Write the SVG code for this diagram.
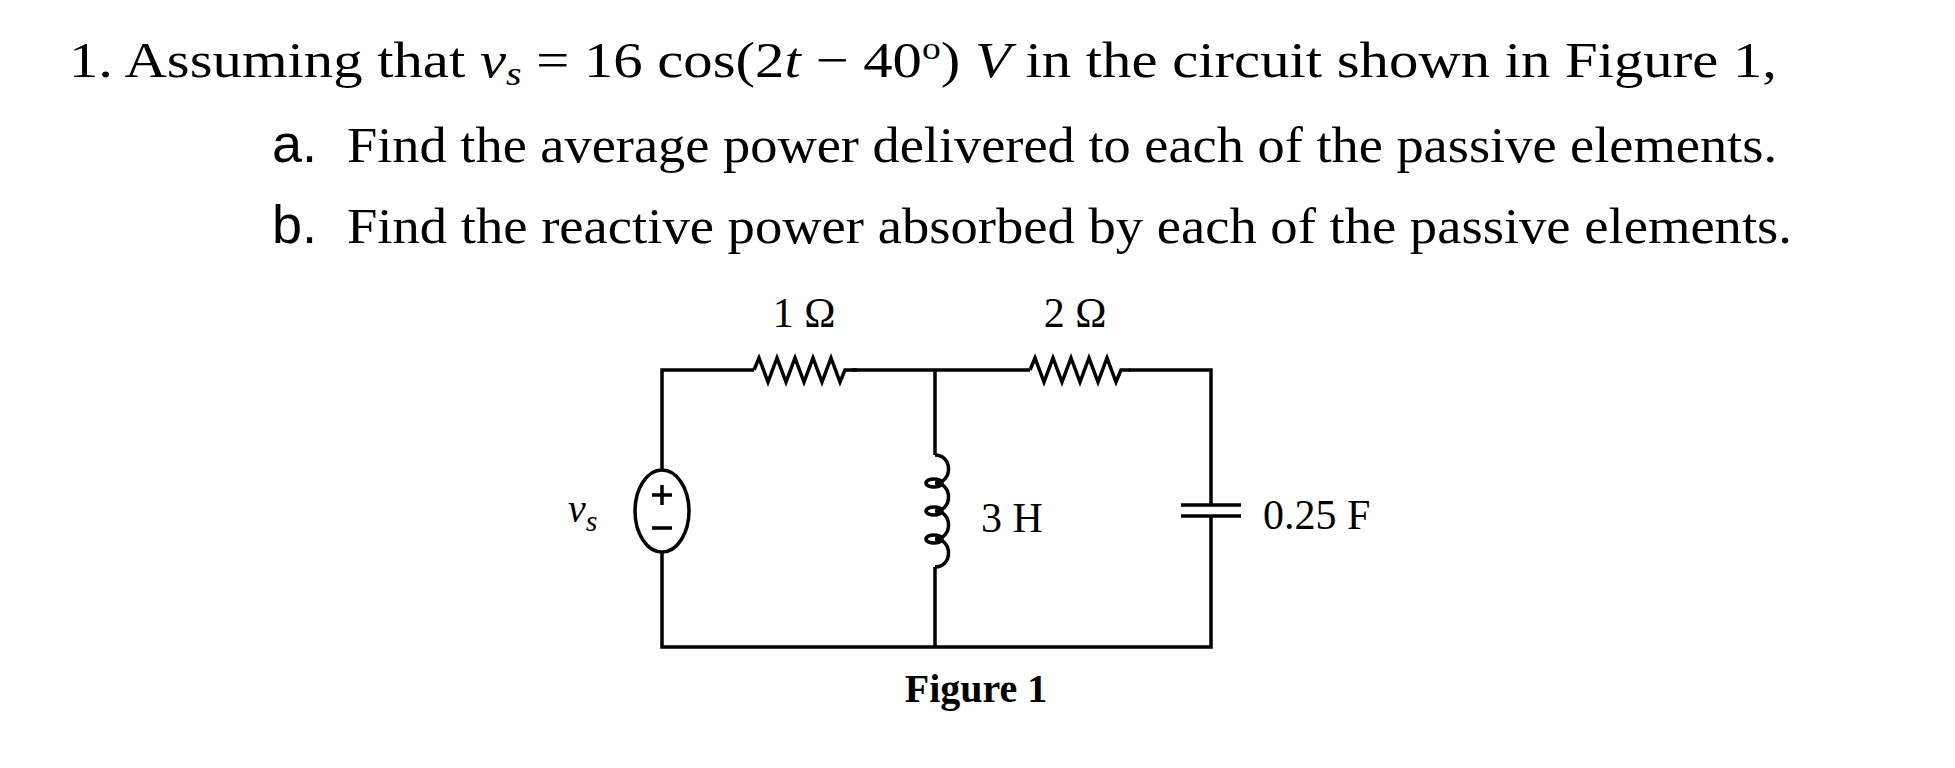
<svg xmlns="http://www.w3.org/2000/svg" width="1955" height="768" viewBox="0 0 1955 768">
<style>
.t{font-family:"Liberation Serif",serif;fill:#000}
.w{fill:none;stroke:#000;stroke-width:3.5;stroke-linejoin:miter}
.ab{font-family:"Liberation Sans",sans-serif;fill:#000}
</style>
<rect width="1955" height="768" fill="#fff"/>
<text class="t" x="69" y="77" font-size="50" textLength="1708" lengthAdjust="spacingAndGlyphs">1.   Assuming that <tspan font-style="italic">v</tspan><tspan font-style="italic" font-size="34" dy="8">s</tspan><tspan dy="-8"> = 16 cos(2</tspan><tspan font-style="italic">t</tspan> −  40<tspan font-size="32" dy="-18">o</tspan><tspan dy="18">) </tspan><tspan font-style="italic">V</tspan> in the circuit shown in Figure 1,</text>
<text class="ab" x="272" y="162" font-size="54">a.</text>
<text class="t" x="347" y="162" font-size="50" textLength="1430" lengthAdjust="spacingAndGlyphs">Find the average power delivered to each of the passive elements.</text>
<text class="ab" x="272" y="243" font-size="54">b.</text>
<text class="t" x="347" y="243" font-size="50" textLength="1445" lengthAdjust="spacingAndGlyphs">Find the reactive power absorbed by each of the passive elements.</text>
<g id="connectors">
<path class="w" d="M662,470 V370 H754 M852,370 H1030 M1129,370 H1211 V505 M1211,516 V647 H662 V552 M935,370 V455 M935,567 V647"/>
</g>
<g id="R1"><path class="w" d="M754,370 l5,-12 l9,24 l9,-24 l9,24 l9,-24 l9,24 l9,-24 l9,24 l9,-24 l9,24 l5,-12 h12"/><text class="t" x="804" y="327" font-size="42" text-anchor="middle">1 Ω</text></g>
<g id="R2"><path class="w" d="M1030,370 l5,-12 l9,24 l9,-24 l9,24 l9,-24 l9,24 l9,-24 l9,24 l9,-24 l9,24 l5,-12 h9"/><text class="t" x="1075" y="327" font-size="42" text-anchor="middle">2 Ω</text></g>
<g id="VS"><ellipse class="w" cx="662" cy="511" rx="27" ry="41"/><path class="w" d="M652,495 h20 M662,485 v20 M652,528 h20"/><text class="t" x="568" y="522" font-size="40" font-style="italic">v<tspan font-size="30" dy="9">s</tspan></text></g>
<g id="L"><path class="w" d="M935,455 c18,0 18,28 0,28 M935,483 c18,0 18,28 0,28 M935,511 c18,0 18,28 0,28 M935,539 c18,0 18,28 0,28"/>
<ellipse class="w" cx="934" cy="483" rx="8" ry="4"/><ellipse class="w" cx="934" cy="511" rx="8" ry="4"/><ellipse class="w" cx="934" cy="539" rx="8" ry="4"/>
<text class="t" x="981" y="532" font-size="42">3 H</text></g>
<g id="C"><path class="w" d="M1181,505 h60 M1181,516 h60"/><text class="t" x="1263" y="529" font-size="42">0.25 F</text></g>
<text class="t" x="976" y="702" font-size="40" font-weight="bold" text-anchor="middle">Figure 1</text>
</svg>
